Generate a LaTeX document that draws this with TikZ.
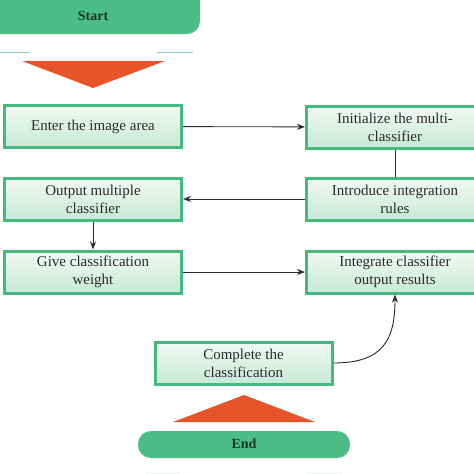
\documentclass[tikz,border=0pt]{standalone}
\usepackage{fontspec}
\setmainfont{Liberation Serif}
\usetikzlibrary{arrows.meta}
\definecolor{barGreen}{HTML}{4DBD86}
\definecolor{edgeGreen}{HTML}{45B97E}
\definecolor{mintTop}{HTML}{F1FAF5}
\definecolor{mintBot}{HTML}{C6E9D6}
\definecolor{arrowRed}{HTML}{E8542A}
\definecolor{inkGray}{HTML}{2B2B2B}
\definecolor{darkGreen}{HTML}{1B3326}
\begin{document}
\begin{tikzpicture}[x=1pt,y=-1pt]
  \tikzstyle{box}=[rectangle, draw=edgeGreen, line width=3pt, top color=mintTop,
    bottom color=mintBot, minimum width=177pt, minimum height=42pt, align=center,
    text=inkGray, font=\fontsize{15}{18}\selectfont]
  \tikzstyle{bar}=[fill=barGreen, rounded corners=13pt]
  \tikzstyle{link}=[draw=inkGray, line width=0.9pt]
  \tikzstyle{arrow}=[link, -{Stealth[length=8pt,width=6pt,inset=2.5pt]}]
  \useasboundingbox (0,0) rectangle (474,474);
  % start and end bars
  \fill[bar] (-30,-20) rectangle (200,34);
  \node[text=darkGreen, font=\fontsize{14}{17}\selectfont\bfseries] (start) at (93,16) {Start};
  \fill[bar] (138,431) rectangle (350,458);
  \node[text=darkGreen, font=\fontsize{14}{17}\selectfont\bfseries] (end) at (244,444) {End};
  \draw[barGreen!70, line width=0.8pt] (0,52) -- (30,52) (157,52) -- (193,52);
  \draw[barGreen!12, line width=0.8pt] (145,473) -- (180,473) (307,473) -- (343,473);
  % orange pointers
  \fill[arrowRed] (22,61) -- (165,61) -- (93,88) -- cycle;
  \fill[arrowRed] (173,422) -- (315,422) -- (244,395) -- cycle;
  % steps
  \node[box] (enter) at (93,126.5) {Enter the image area};
  \node[box] (init) at (395,127) {Initialize the multi-\\classifier};
  \node[box] (output) at (93,199) {Output multiple\\classifier};
  \node[box] (rules) at (395,199) {Introduce integration\\rules};
  \node[box] (weight) at (93,272) {Give classification\\weight};
  \node[box] (integrate) at (395,272) {Integrate classifier\\output results};
  \node[box] (complete) at (243.5,363) {Complete the\\classification};
  % connectors
  \draw[arrow] (enter) -- (init);
  \draw[link] (init) -- (rules);
  \draw[arrow] (rules) -- (output);
  \draw[arrow] (output) -- (weight);
  \draw[arrow] (weight) -- (integrate);
  \draw[arrow] (complete.east) .. controls +(50,0) and +(0,45) .. (integrate.south);
\end{tikzpicture}
\end{document}
